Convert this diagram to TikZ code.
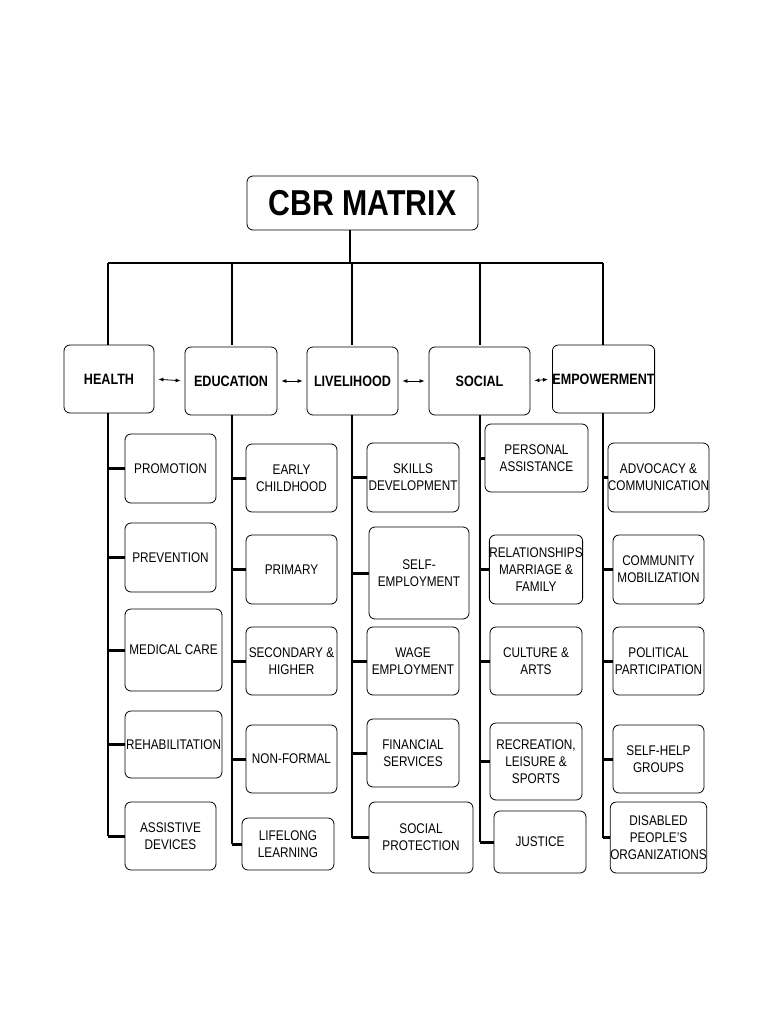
\documentclass[tikz,border=0pt]{standalone}
\usepackage{fontspec}
\setmainfont{Liberation Sans}[FakeStretch=0.84]
\usetikzlibrary{arrows.meta}
\begin{document}
\begin{tikzpicture}[x=1pt,y=-1pt,
  box/.style={draw,line width=0.8pt,rounded corners=6pt,inner sep=0pt,align=center,font=\fontsize{14}{17}\selectfont},
  hbox/.style={box,font=\bfseries\fontsize{15}{18}\selectfont},
  bar/.style={line width=2.2pt},
  col/.style={line width=1.6pt},
  tick/.style={line width=3pt},
  dbl/.style={{Latex[length=5pt,width=4pt]}-{Latex[length=5pt,width=4pt]},line width=0.8pt,shorten >=4pt,shorten <=4pt}]
\useasboundingbox (0,0) rectangle (768,1024);
\newcommand{\bx}[7]{\node[#1,minimum width=#4-#3,minimum height=#6-#5] (#2) at ({(#3+#4)/2},{(#5+#6)/2}) {#7};}
\bx{box}{title}{247}{478}{176}{230}{\bfseries\fontsize{36}{40}\selectfont CBR MATRIX}
\bx{hbox}{h1}{64}{154}{345}{413}{HEALTH}
\bx{hbox}{h2}{185}{277}{347}{415}{EDUCATION}
\bx{hbox}{h3}{307}{398}{347}{415}{LIVELIHOOD}
\bx{hbox}{h4}{429}{530}{347}{415}{SOCIAL}
\bx{hbox}{h5}{556}{651}{345}{413}{EMPOWERMENT}
\coordinate (stem) at (350,263);
\draw[col] (title.south -| stem) -- (stem);
\draw[bar] (108,263) -- (603,263);
\foreach \n/\x in {h1/108,h2/232,h3/352,h4/480,h5/603}{\draw[col] (\x,263) -- (\x,345);}
\draw[dbl] (h1.east) -- (h2.west);
\draw[dbl] (h2.east) -- (h3.west);
\draw[dbl] (h3.east) -- (h4.west);
\draw[dbl] (h4.east) -- (h5.west);
% children
\bx{box}{a1}{125}{216}{434}{503}{PROMOTION}
\bx{box}{a2}{125}{216}{523}{592}{PREVENTION}
\bx{box}{a3}{125}{222}{609}{691}{MEDICAL CARE}
\bx{box}{a4}{125}{222}{711}{778}{REHABILITATION}
\bx{box}{a5}{125}{216}{802}{870}{ASSISTIVE\\DEVICES}
\bx{box}{b1}{246}{337}{444}{512}{EARLY\\CHILDHOOD}
\bx{box}{b2}{246}{337}{535}{604}{PRIMARY}
\bx{box}{b3}{246}{337}{627}{695}{SECONDARY \&\\HIGHER}
\bx{box}{b4}{246}{337}{725}{793}{NON-FORMAL}
\bx{box}{b5}{242}{334}{818}{870}{LIFELONG\\LEARNING}
\bx{box}{c1}{367}{459}{443}{512}{SKILLS\\DEVELOPMENT}
\bx{box}{c2}{369}{469}{527}{619}{SELF-\\EMPLOYMENT}
\bx{box}{c3}{367}{459}{627}{695}{WAGE\\EMPLOYMENT}
\bx{box}{c4}{367}{459}{719}{787}{FINANCIAL\\SERVICES}
\bx{box}{c5}{369}{473}{802}{873}{SOCIAL\\PROTECTION}
\bx{box}{d1}{485}{588}{424}{492}{PERSONAL\\ASSISTANCE}
\bx{box}{d2}{490}{582}{535}{604}{RELATIONSHIPS\\MARRIAGE \&\\FAMILY}
\bx{box}{d3}{490}{582}{627}{695}{CULTURE \&\\ARTS}
\bx{box}{d4}{490}{582}{723}{800}{RECREATION,\\LEISURE \&\\SPORTS}
\bx{box}{d5}{494}{586}{811}{873}{JUSTICE}
\bx{box}{e1}{613}{704}{443}{512}{ADVOCACY \&\\COMMUNICATION}
\bx{box}{e2}{613}{704}{535}{604}{COMMUNITY\\MOBILIZATION}
\bx{box}{e3}{613}{704}{627}{695}{POLITICAL\\PARTICIPATION}
\bx{box}{e4}{613}{704}{725}{793}{SELF-HELP\\GROUPS}
\bx{box}{e5}{613}{704}{802}{873}{DISABLED\\PEOPLE'S\\ORGANIZATIONS}
\foreach \h/\c/\x in {h1/a/108,h2/b/232,h3/c/352,h4/d/480,h5/e/603}{
  \draw[col] (\h.south -| {(\x,0)}) -- (\c5.west -| {(\x,0)});
  \foreach \i in {1,...,5}{\draw[tick] (\c\i.west -| {(\x,0)}) -- (\c\i.west);}
}
\end{tikzpicture}
\end{document}
